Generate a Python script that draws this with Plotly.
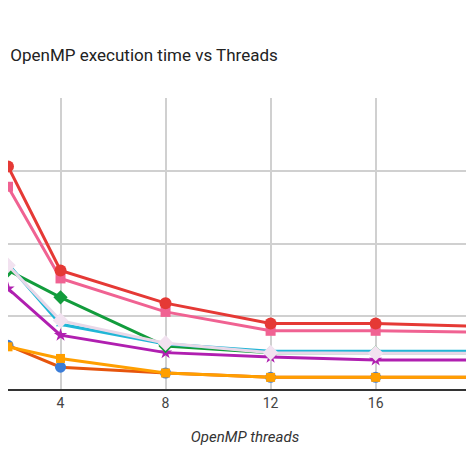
import plotly.graph_objects as go

threads = [2, 4, 8, 12, 16, 20]

# execution times (arbitrary units, axis labels are cropped)
red = [153, 81.5, 59, 45, 45, 43]
pink = [139, 76, 53, 40, 40, 39]
green = [81.5, 63, 29.5, 25, 25, 25]
cyan = [86, 44.5, 31, 26, 26, 26]
lavender = [85, 47, 31.5, 25, 24.5, 24.5]
purple = [69, 37, 25, 22, 20, 20]
orange = [29, 21, 11, 8, 8, 8]
orange_blue = [30, 15, 11, 8, 8, 8]

series = [
    ("s8", orange_blue, "#e6550d", "circle", "#3b7dd8", 11),
    ("s7", orange, "#ff9f00", "square", "#ff9f00", 9),
    ("s6", purple, "#b01fb0", "star", "#b01fb0", 10),
    ("s5", green, "#129c3c", "diamond", "#129c3c", 11),
    ("s4", cyan, "#21b6d6", "triangle-up", "#21b6d6", 8),
    ("s3", lavender, "#e8d8e8", "diamond", "#f2e2f0", 12),
    ("s2", pink, "#f06292", "square", "#f06292", 10),
    ("s1", red, "#e53935", "circle", "#e53935", 12),
]

fig = go.Figure()
for name, ys, lc, sym, mc, sz in series:
    fig.add_trace(go.Scatter(
        x=threads, y=ys, name=name, mode="lines+markers",
        line=dict(color=lc, width=3),
        marker=dict(symbol=sym, color=mc, size=sz),
        cliponaxis=False,
    ))

fig.update_layout(
    width=474, height=474, showlegend=False,
    paper_bgcolor="white", plot_bgcolor="white",
    margin=dict(l=0, r=0, t=90, b=93, autoexpand=False),
    font=dict(family="Roboto, Arial, sans-serif", color="#222"),
    title=dict(text="OpenMP execution time vs Threads", x=0.005, xanchor="left",
               y=0.9, yanchor="middle", font=dict(size=17, color="#222")),
)
fig.update_xaxes(
    range=[2.0, 20.05], tickvals=[4, 8, 12, 16, 20], showgrid=True, automargin=False,
    gridcolor="#d0d0d0", gridwidth=1.5, zeroline=False, ticks="",
    tickfont=dict(size=14, color="#444"),
    showline=True, linecolor="#333", linewidth=2,
    title=dict(text="<i>OpenMP threads</i>", font=dict(size=15, color="#333"), standoff=22),
)
fig.update_yaxes(
    range=[0, 200], dtick=50, showgrid=True, gridcolor="#d0d0d0", gridwidth=1.5,
    showticklabels=False, zeroline=False, showline=False, automargin=False,
)

fig.write_html("out.html")
